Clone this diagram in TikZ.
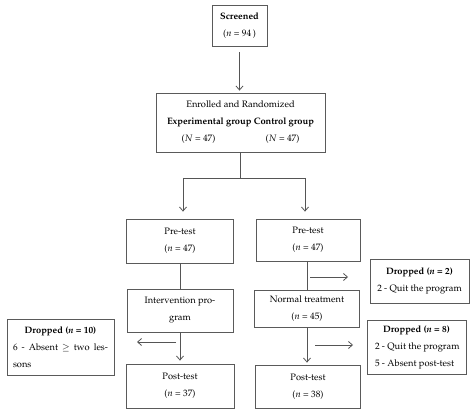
\documentclass[tikz,border=0pt]{standalone}
\usepackage[T1]{fontenc}
\usepackage{mathpazo}
\usetikzlibrary{arrows.meta}
\definecolor{boxgray}{HTML}{5A5A5A}
\definecolor{linegray}{HTML}{555555}
\begin{document}
\begin{tikzpicture}[x=1pt,y=-1pt,
  font=\fontsize{9.3}{17}\selectfont,
  box/.style={draw=boxgray, line width=0.8pt, inner sep=0pt, align=center},
  conn/.style={draw=linegray, line width=0.8pt},
  arr/.style={conn, -{Straight Barb[length=4pt,width=7pt]}}]
\useasboundingbox (0,0) rectangle (474,417);

% nodes
\node[box, minimum width=55pt, minimum height=41pt] (screen) at (239.5,25.5)
  {\textbf{Screened}\\($n$ = 94\,)};
\node[box, minimum width=169pt, minimum height=59pt] (enrol) at (240.5,122.5)
  {Enrolled and Randomized\\
   \textbf{Experimental group Control group}\\
   \makebox[84pt]{($N$ = 47)}\makebox[84pt]{($N$ = 47)}};
\node[box, minimum width=107pt, minimum height=44pt] (preL) at (180,241)
  {Pre-test\\($n$ = 47)};
\node[box, minimum width=104pt, minimum height=42pt] (preR) at (308,240)
  {Pre-test\\($n$ = 47)};
\node[box, minimum width=106pt, minimum height=43pt] (inter) at (180,310.5)
  {Intervention pro-\\gram};
\node[box, minimum width=105pt, minimum height=37pt] (normal) at (307,308.5)
  {Normal treatment\\($n$ = 45)};
\node[box, minimum width=108pt, minimum height=44pt] (postL) at (180,386)
  {Post-test\\($n$ = 37)};
\node[box, minimum width=105pt, minimum height=43pt] (postR) at (308,386.5)
  {Post-test\\($n$ = 38)};
\node[box, minimum width=107pt, minimum height=56pt] (drop10) at (60.5,347)
  {\textbf{Dropped (\textit{n} = 10)}\\
   \makebox[95pt][s]{6 - Absent $\geq$ two les-}\\
   \makebox[95pt][l]{sons}};
\node[box, minimum width=99pt, minimum height=44pt] (drop2) at (419.5,281)
  {\textbf{Dropped (\textit{n} = 2)}\\2 - Quit the program};
\node[box, minimum width=99pt, minimum height=54pt] (drop8) at (416.5,347)
  {\textbf{Dropped (\textit{n} = 8)}\\
   \makebox[83pt][l]{2 - Quit the program}\\
   \makebox[83pt][l]{5 - Absent post-test}};

% coordinates for the split and free arrows
\coordinate (split) at (240.5,178);
\coordinate (splitL) at (183,178);
\coordinate (splitR) at (305,178);
\coordinate (a1s) at (176,342);
\coordinate (a1e) at (137,342);
\coordinate (a2s) at (310,277);
\coordinate (a2e) at (348,277);
\coordinate (a3s) at (315,345);
\coordinate (a3e) at (353,345);

% connectors
\draw[arr, shorten <=6pt, shorten >=2pt] (screen.south) -- (screen.south |- enrol.north);
\draw[conn] (enrol.south) -- (split);
\draw[conn] (splitL) -- (splitR);
\draw[arr, shorten >=7pt] (splitL) -- (splitL |- preL.north);
\draw[arr, shorten >=7pt] (splitR) -- (splitR |- preR.north);
\draw[conn] (preL.south) -- (preL.south |- inter.north);
\draw[arr, shorten >=3pt] (inter.south) -- (inter.south |- postL.north);
\draw[conn] (normal.north |- preR.south) -- (normal.north);
\draw[arr, shorten >=2pt] (normal.south) -- (normal.south |- postR.north);
\draw[arr] (a1s) -- (a1e);
\draw[arr] (a2s) -- (a2e);
\draw[arr] (a3s) -- (a3e);
\end{tikzpicture}
\end{document}
